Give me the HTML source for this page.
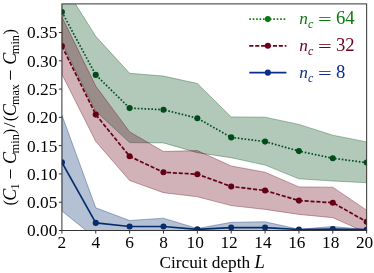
<!DOCTYPE html>
<html><head><meta charset="utf-8"><title>Circuit depth plot</title>
<style>
html,body{margin:0;padding:0;background:#fff;}
body{width:374px;height:273px;overflow:hidden;}
svg{display:block;}
text{font-family:"Liberation Serif","DejaVu Serif",serif;fill:#000;}
.i{font-style:italic;}
</style></head><body>
<svg width="374" height="273" viewBox="0 0 374 273">
<rect x="0" y="0" width="374" height="273" fill="#fff"/>
<defs><clipPath id="ax"><rect x="61.90" y="3.90" width="304.75" height="226.60"/></clipPath></defs>
<g clip-path="url(#ax)"><g transform="translate(0,0.3)">
<polygon points="61.90,-17.70 95.76,36.00 129.62,73.00 163.48,75.75 197.34,83.20 231.21,116.60 265.07,116.90 298.93,124.10 332.79,134.90 366.65,141.60 366.65,182.40 332.79,180.70 298.93,178.50 265.07,164.80 231.21,157.40 197.34,152.40 163.48,142.60 129.62,142.30 95.76,110.90 61.90,42.60" fill="#004b19" fill-opacity="0.3" stroke="#004b19" stroke-opacity="0.38" stroke-width="0.9"/>
<polygon points="61.90,16.50 95.76,85.75 129.62,131.50 163.48,151.20 197.34,150.30 231.21,165.70 265.07,171.90 298.93,186.60 332.79,186.90 366.65,209.90 366.65,232.40 332.79,217.40 298.93,214.10 265.07,209.10 231.21,205.30 197.34,196.50 163.48,192.40 129.62,180.25 95.76,141.20 61.90,74.00" fill="#640014" fill-opacity="0.3" stroke="#640014" stroke-opacity="0.38" stroke-width="0.9"/>
<polygon points="61.90,114.70 95.76,207.50 129.62,220.20 163.48,217.90 197.34,228.20 231.21,222.00 265.07,221.50 298.93,229.00 332.79,226.20 366.65,229.20 366.65,229.60 332.79,231.00 298.93,229.50 265.07,233.00 231.21,232.50 197.34,230.00 163.48,234.00 129.62,232.00 95.76,238.00 61.90,210.70" fill="#052d6e" fill-opacity="0.3" stroke="#052d6e" stroke-opacity="0.38" stroke-width="0.9"/>
<polyline points="61.90,11.70 95.76,74.60 129.62,107.80 163.48,109.40 197.34,117.90 231.21,137.10 265.07,141.30 298.93,150.80 332.79,158.00 366.65,162.30" fill="none" stroke="#004b19" stroke-width="1.7" stroke-dasharray="1.6 1.83" stroke-linejoin="round"/>
<circle cx="61.90" cy="11.70" r="3.05" fill="#004b19"/>
<circle cx="95.76" cy="74.60" r="3.05" fill="#004b19"/>
<circle cx="129.62" cy="107.80" r="3.05" fill="#004b19"/>
<circle cx="163.48" cy="109.40" r="3.05" fill="#004b19"/>
<circle cx="197.34" cy="117.90" r="3.05" fill="#004b19"/>
<circle cx="231.21" cy="137.10" r="3.05" fill="#004b19"/>
<circle cx="265.07" cy="141.30" r="3.05" fill="#004b19"/>
<circle cx="298.93" cy="150.80" r="3.05" fill="#004b19"/>
<circle cx="332.79" cy="158.00" r="3.05" fill="#004b19"/>
<circle cx="366.65" cy="162.30" r="3.05" fill="#004b19"/>
<polyline points="61.90,45.70 95.76,114.30 129.62,156.00 163.48,172.00 197.34,173.90 231.21,186.20 265.07,190.20 298.93,200.30 332.79,202.40 366.65,221.50" fill="none" stroke="#640014" stroke-width="1.7" stroke-dasharray="4.1 1.8" stroke-linejoin="round"/>
<circle cx="61.90" cy="45.70" r="3.05" fill="#640014"/>
<circle cx="95.76" cy="114.30" r="3.05" fill="#640014"/>
<circle cx="129.62" cy="156.00" r="3.05" fill="#640014"/>
<circle cx="163.48" cy="172.00" r="3.05" fill="#640014"/>
<circle cx="197.34" cy="173.90" r="3.05" fill="#640014"/>
<circle cx="231.21" cy="186.20" r="3.05" fill="#640014"/>
<circle cx="265.07" cy="190.20" r="3.05" fill="#640014"/>
<circle cx="298.93" cy="200.30" r="3.05" fill="#640014"/>
<circle cx="332.79" cy="202.40" r="3.05" fill="#640014"/>
<circle cx="366.65" cy="221.50" r="3.05" fill="#640014"/>
<polyline points="61.90,162.10 95.76,222.60 129.62,226.20 163.48,226.20 197.34,229.00 231.21,227.30 265.07,227.30 298.93,229.20 332.79,228.70 366.65,229.40" fill="none" stroke="#052d6e" stroke-width="1.7" stroke-linejoin="round"/>
<circle cx="61.90" cy="162.10" r="3.05" fill="#052d6e"/>
<circle cx="95.76" cy="222.60" r="3.05" fill="#052d6e"/>
<circle cx="129.62" cy="226.20" r="3.05" fill="#052d6e"/>
<circle cx="163.48" cy="226.20" r="3.05" fill="#052d6e"/>
<circle cx="197.34" cy="229.00" r="3.05" fill="#052d6e"/>
<circle cx="231.21" cy="227.30" r="3.05" fill="#052d6e"/>
<circle cx="265.07" cy="227.30" r="3.05" fill="#052d6e"/>
<circle cx="298.93" cy="229.20" r="3.05" fill="#052d6e"/>
<circle cx="332.79" cy="228.70" r="3.05" fill="#052d6e"/>
<circle cx="366.65" cy="229.40" r="3.05" fill="#052d6e"/>
</g></g>
<rect x="61.9" y="3.9" width="304.75" height="226.60" fill="none" stroke="#333" stroke-width="1"/>
<line x1="61.90" y1="230.5" x2="61.90" y2="233.5" stroke="#333" stroke-width="1"/>
<line x1="95.76" y1="230.5" x2="95.76" y2="233.5" stroke="#333" stroke-width="1"/>
<line x1="129.62" y1="230.5" x2="129.62" y2="233.5" stroke="#333" stroke-width="1"/>
<line x1="163.48" y1="230.5" x2="163.48" y2="233.5" stroke="#333" stroke-width="1"/>
<line x1="197.34" y1="230.5" x2="197.34" y2="233.5" stroke="#333" stroke-width="1"/>
<line x1="231.21" y1="230.5" x2="231.21" y2="233.5" stroke="#333" stroke-width="1"/>
<line x1="265.07" y1="230.5" x2="265.07" y2="233.5" stroke="#333" stroke-width="1"/>
<line x1="298.93" y1="230.5" x2="298.93" y2="233.5" stroke="#333" stroke-width="1"/>
<line x1="332.79" y1="230.5" x2="332.79" y2="233.5" stroke="#333" stroke-width="1"/>
<line x1="366.65" y1="230.5" x2="366.65" y2="233.5" stroke="#333" stroke-width="1"/>
<line x1="61.9" y1="230.50" x2="58.9" y2="230.50" stroke="#333" stroke-width="1"/>
<line x1="61.9" y1="202.22" x2="58.9" y2="202.22" stroke="#333" stroke-width="1"/>
<line x1="61.9" y1="173.93" x2="58.9" y2="173.93" stroke="#333" stroke-width="1"/>
<line x1="61.9" y1="145.64" x2="58.9" y2="145.64" stroke="#333" stroke-width="1"/>
<line x1="61.9" y1="117.36" x2="58.9" y2="117.36" stroke="#333" stroke-width="1"/>
<line x1="61.9" y1="89.07" x2="58.9" y2="89.07" stroke="#333" stroke-width="1"/>
<line x1="61.9" y1="60.79" x2="58.9" y2="60.79" stroke="#333" stroke-width="1"/>
<line x1="61.9" y1="32.50" x2="58.9" y2="32.50" stroke="#333" stroke-width="1"/>
<text x="61.90" y="247.5" font-size="17.3" text-anchor="middle">2</text>
<text x="95.76" y="247.5" font-size="17.3" text-anchor="middle">4</text>
<text x="129.62" y="247.5" font-size="17.3" text-anchor="middle">6</text>
<text x="163.48" y="247.5" font-size="17.3" text-anchor="middle">8</text>
<text x="195.24" y="247.5" font-size="17.3" text-anchor="middle">10</text>
<text x="229.11" y="247.5" font-size="17.3" text-anchor="middle">12</text>
<text x="262.97" y="247.5" font-size="17.3" text-anchor="middle">14</text>
<text x="296.83" y="247.5" font-size="17.3" text-anchor="middle">16</text>
<text x="330.69" y="247.5" font-size="17.3" text-anchor="middle">18</text>
<text x="364.55" y="247.5" font-size="17.3" text-anchor="middle">20</text>
<text x="57.35" y="236.40" font-size="17.3" text-anchor="end">0.00</text>
<text x="57.35" y="208.12" font-size="17.3" text-anchor="end">0.05</text>
<text x="57.35" y="179.83" font-size="17.3" text-anchor="end">0.10</text>
<text x="57.35" y="151.54" font-size="17.3" text-anchor="end">0.15</text>
<text x="57.35" y="123.26" font-size="17.3" text-anchor="end">0.20</text>
<text x="57.35" y="94.97" font-size="17.3" text-anchor="end">0.25</text>
<text x="57.35" y="66.69" font-size="17.3" text-anchor="end">0.30</text>
<text x="57.35" y="38.40" font-size="17.3" text-anchor="end">0.35</text>
<text x="212.2" y="268.1" font-size="17.3" text-anchor="middle">Circuit depth <tspan class="i" font-size="18.7">L</tspan></text>
<g transform="translate(15.2,117.2) rotate(-90)" font-size="17.3">
<text x="-88.4" y="-0.5" font-size="16.43">(</text>
<text class="i" x="-83.5" y="0.4" font-size="18.17">C</text>
<text x="-72.3" y="3.6" font-size="12.11">1</text>
<text x="-62.3" y="2.0" font-size="19.38">−</text>
<text class="i" x="-46.9" y="0.4" font-size="18.17">C</text>
<text x="-36.2" y="3.6" font-size="12.47">min</text>
<text x="-16.95" y="-0.5" font-size="16.43">)</text>
<text transform="translate(-10.4,0) scale(1.05,1)" font-size="17.30" y="0">/</text>
<text x="-4.0" y="-0.5" font-size="16.43">(</text>
<text class="i" x="0.9" y="0.4" font-size="18.17">C</text>
<text x="12.2" y="3.6" font-size="12.11">max</text>
<text x="36.5" y="2.1" font-size="19.89">−</text>
<text class="i" x="52.5" y="0.4" font-size="18.17">C</text>
<text x="63.0" y="3.6" font-size="12.35">min</text>
<text x="82.8" y="-0.5" font-size="16.43">)</text>
</g>
<line x1="249.3" y1="19.1" x2="286.4" y2="19.1" stroke="#0a780f" stroke-width="1.7" stroke-dasharray="1.6 1.83"/>
<circle cx="267.85" cy="19.1" r="3.05" fill="#0a780f"/>
<g style="fill:#0a780f"><text class="i" x="299.3" y="24.2" font-size="17.3" style="fill:#0a780f">n</text><text class="i" x="307.9" y="28.40" font-size="12" style="fill:#0a780f">c</text><text transform="translate(318.3,24.80) scale(1.34,1)" font-size="17.3" style="fill:#0a780f;stroke:#0a780f;stroke-width:0.25">=</text><text x="336.0" y="24.2" font-size="18.7" style="fill:#0a780f">64</text></g>
<line x1="249.3" y1="45.8" x2="286.4" y2="45.8" stroke="#6e0019" stroke-width="1.7" stroke-dasharray="4.1 1.8"/>
<circle cx="267.85" cy="45.8" r="3.05" fill="#6e0019"/>
<g style="fill:#6e0019"><text class="i" x="299.3" y="51.15" font-size="17.3" style="fill:#6e0019">n</text><text class="i" x="307.9" y="55.35" font-size="12" style="fill:#6e0019">c</text><text transform="translate(318.3,51.75) scale(1.34,1)" font-size="17.3" style="fill:#6e0019;stroke:#6e0019;stroke-width:0.25">=</text><text x="336.0" y="51.15" font-size="18.7" style="fill:#6e0019">32</text></g>
<line x1="249.3" y1="72.65" x2="286.4" y2="72.65" stroke="#0a2d8c" stroke-width="1.7"/>
<circle cx="267.85" cy="72.65" r="3.05" fill="#0a2d8c"/>
<g style="fill:#0a2d8c"><text class="i" x="299.3" y="78.0" font-size="17.3" style="fill:#0a2d8c">n</text><text class="i" x="307.9" y="82.20" font-size="12" style="fill:#0a2d8c">c</text><text transform="translate(318.3,78.60) scale(1.34,1)" font-size="17.3" style="fill:#0a2d8c;stroke:#0a2d8c;stroke-width:0.25">=</text><text x="336.0" y="78.0" font-size="18.7" style="fill:#0a2d8c">8</text></g>
</svg></body></html>
